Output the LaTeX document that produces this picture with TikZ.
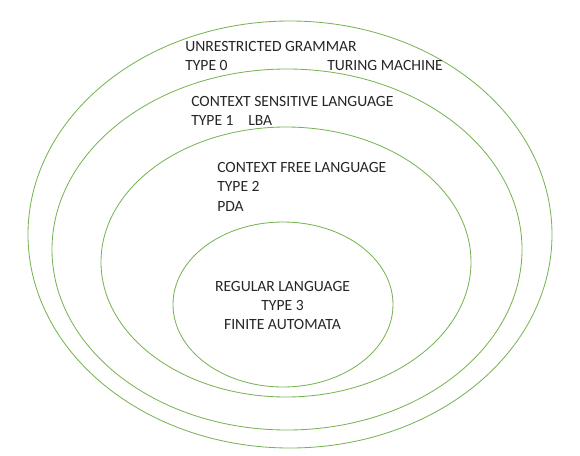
\documentclass[tikz,border=0pt]{standalone}
\usepackage{fontspec}
\setmainfont{Carlito}
\usepackage{tikz}
\definecolor{ringgreen}{HTML}{78B454}

\begin{document}
\begin{tikzpicture}[x=0.025cm,y=-0.025cm]
  \tikzset{ring/.style = {draw=ringgreen,line width=0.6pt}}
  \tikzset{lbl/.style = {anchor=base west,inner sep=0pt,text=black!85,font=\fontsize{11.1}{13.9}\selectfont}}
  \tikzset{clbl/.style = {lbl,anchor=base}}

  \useasboundingbox (0,0) rectangle (580,455);

  % the four classes, outside in
	\draw[ring] (290,234.5) ellipse [x radius=262, y radius=213.5];
	\draw[ring] (287,249.5) ellipse [x radius=235, y radius=180.5];
	\draw[ring] (286,262) ellipse [x radius=185, y radius=135];
	\draw[ring] (283,304.5) ellipse [x radius=110, y radius=82.5];

	\node[lbl] (ug) at (185,51) {UNRESTRICTED GRAMMAR};
	\node[lbl] (t0) at (185,70) {TYPE 0};
	\node[lbl] (tm) at (327,70) {TURING MACHINE};

	\node[lbl] (csl) at (191,106) {CONTEXT SENSITIVE LANGUAGE};
	\node[lbl] (t1) at (191,125) {TYPE 1};
	\node[lbl] (lba) at (248,125) {LBA};

	\node[lbl] (cfl) at (217,172) {CONTEXT FREE LANGUAGE};
	\node[lbl] (t2) at (217,191.5) {TYPE 2};
	\node[lbl] (pda) at (217,211) {PDA};

	\node[clbl] (rl) at (282.5,291) {REGULAR LANGUAGE};
	\node[clbl] (t3) at (282.5,310) {TYPE 3};
	\node[clbl] (fa) at (282.5,329) {FINITE AUTOMATA};
\end{tikzpicture}
\end{document}
